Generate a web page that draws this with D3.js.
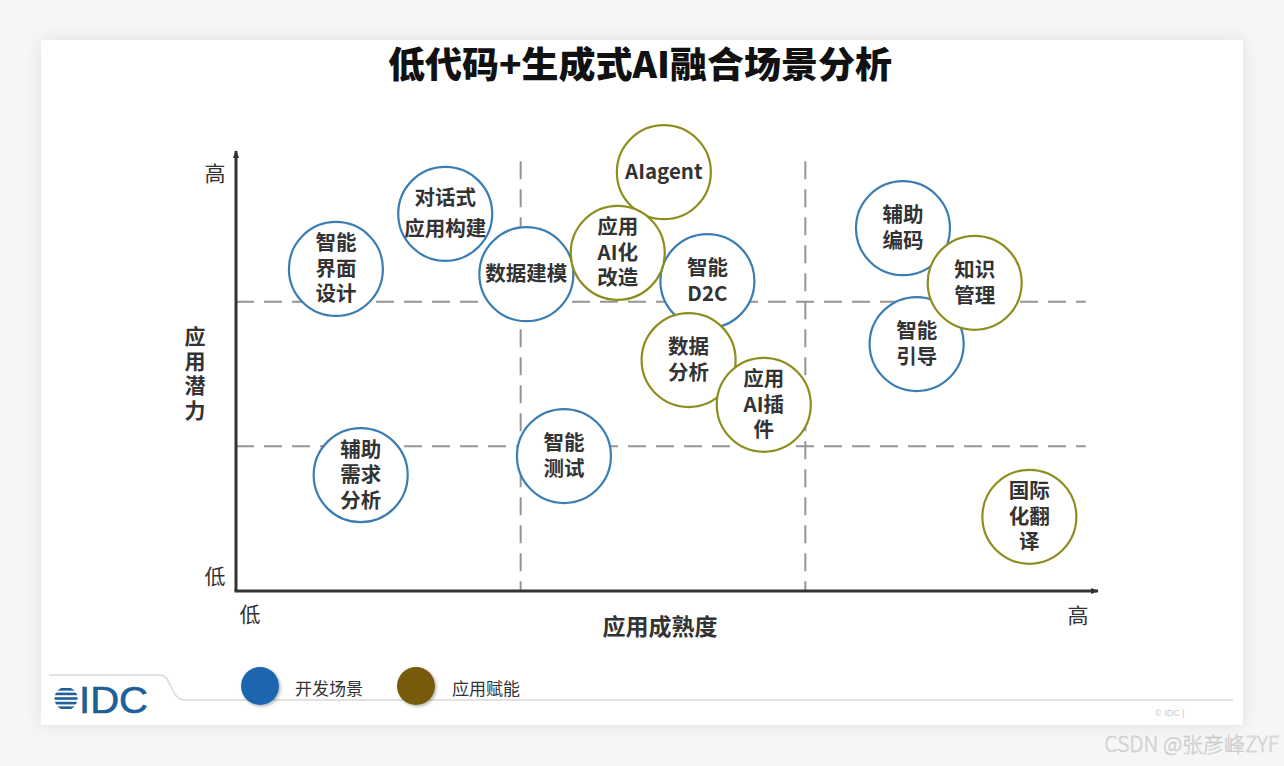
<!DOCTYPE html>
<html>
<head>
<meta charset="utf-8">
<script src="https://cdn.jsdelivr.net/npm/d3@7/dist/d3.min.js"></script>
<style>
  html, body { margin: 0; padding: 0; background: #f6f6f6; }
  svg { display: block; }
</style>
</head>
<body>
<svg id="chart" width="1284" height="766"></svg>
<script>
// ---- Data ----
const title = "低代码+生成式AI融合场景分析";
const xAxisTitle = "应用成熟度";
const yAxisTitle = "应用潜力";
const lowLabel = "低";
const highLabel = "高";
const groups = ["开发场景", "应用赋能"];
const labels = [
  ["智能", "界面", "设计"],
  ["对话式", "应用构建"],
  ["数据建模"],
  ["智能", "D2C"],
  ["辅助", "编码"],
  ["智能", "引导"],
  ["辅助", "需求", "分析"],
  ["智能", "测试"],
  ["AIagent"],
  ["应用", "AI化", "改造"],
  ["数据", "分析"],
  ["应用", "AI插", "件"],
  ["知识", "管理"],
  ["国际", "化翻", "译"]
];
const maturity  = [11.7, 24.5, 34.0, 55.2, 78.1, 79.7, 14.6, 38.4, 50.1, 44.7, 53.0, 61.8, 86.5, 92.9];
const potential = [74.2, 86.9, 73.0, 71.4, 83.6, 56.9, 26.7, 31.1, 96.5, 77.9, 53.2, 42.9, 71.0, 17.1];
const groupOf   = [0, 0, 0, 0, 0, 0, 0, 0, 1, 1, 1, 1, 1, 1];
const dividers = [100 / 3, 200 / 3];

// ---- Styles ----
const ringColors = ["#3a7db3", "#8e8e1f"];
const legendColors = ["#1f66b0", "#785a0c"];
const textColor = "#333";
const cjk = "'Noto Sans CJK SC', 'Noto Sans', sans-serif";

const svg = d3.select("#chart");
const defs = svg.append("defs");
const sh = defs.append("filter").attr("id", "cardShadow").attr("x", "-5%").attr("y", "-5%").attr("width", "110%").attr("height", "110%");
sh.append("feDropShadow").attr("dx", 0).attr("dy", 0).attr("stdDeviation", 8).attr("flood-color", "#000").attr("flood-opacity", 0.09);
const ls = defs.append("filter").attr("id", "legShadow").attr("x", "-30%").attr("y", "-30%").attr("width", "160%").attr("height", "160%");
ls.append("feDropShadow").attr("dx", 1.5).attr("dy", 1.5).attr("stdDeviation", 1.5).attr("flood-color", "#000").attr("flood-opacity", 0.3);
const ah = defs.append("marker").attr("id", "arrow").attr("viewBox", "0 0 10 10").attr("refX", 9).attr("refY", 5)
  .attr("markerWidth", 8).attr("markerHeight", 8).attr("markerUnits", "userSpaceOnUse").attr("orient", "auto");
ah.append("path").attr("d", "M0,1 L10,5 L0,9 Z").attr("fill", "#333");

// card
svg.append("rect").attr("x", 41).attr("y", 40).attr("width", 1202).attr("height", 685)
  .attr("fill", "#fff").attr("filter", "url(#cardShadow)");

// title
svg.append("text").attr("x", 640).attr("y", 62).attr("text-anchor", "middle").attr("dominant-baseline", "central")
  .attr("font-family", cjk).attr("font-weight", 900).attr("font-size", 36).attr("fill", "#111")
  .attr("textLength", 504).attr("lengthAdjust", "spacingAndGlyphs").text(title);

// scales
const x = d3.scaleLinear().domain([0, 100]).range([236, 1090]);
const y = d3.scaleLinear().domain([0, 100]).range([591, 157]);

// dashed dividers
const g = svg.append("g");
g.selectAll("line.v").data(dividers).join("line").attr("class", "v")
  .attr("x1", d => x(d)).attr("x2", d => x(d)).attr("y1", y(99)).attr("y2", y(0))
  .attr("stroke", "#959595").attr("stroke-width", 2).attr("stroke-dasharray", "18 10");
g.selectAll("line.h").data(dividers).join("line").attr("class", "h")
  .attr("x1", x(0)).attr("x2", x(99.5)).attr("y1", d => y(d)).attr("y2", d => y(d))
  .attr("stroke", "#959595").attr("stroke-width", 2).attr("stroke-dasharray", "18 10");

// axes (arrows)
svg.append("line").attr("x1", x(0)).attr("y1", y(0)).attr("x2", x(0)).attr("y2", y(0) - 440)
  .attr("stroke", "#333").attr("stroke-width", 3).attr("marker-end", "url(#arrow)");
svg.append("line").attr("x1", x(0) - 1.5).attr("y1", y(0)).attr("x2", x(100) + 8).attr("y2", y(0))
  .attr("stroke", "#333").attr("stroke-width", 3).attr("marker-end", "url(#arrow)");

// axis end labels
const endStyle = sel => sel.attr("font-family", cjk).attr("font-size", 21).attr("fill", textColor)
  .attr("text-anchor", "middle").attr("dominant-baseline", "central");
svg.append("text").attr("x", 215).attr("y", y(96.5)).call(endStyle).text(highLabel);
svg.append("text").attr("x", 215).attr("y", y(3.7)).call(endStyle).text(lowLabel);
svg.append("text").attr("x", 250).attr("y", 613).call(endStyle).text(lowLabel);
svg.append("text").attr("x", 1078).attr("y", 614).call(endStyle).text(highLabel);

// axis titles
svg.append("text").attr("x", 660).attr("y", 625).attr("text-anchor", "middle").attr("dominant-baseline", "central")
  .attr("font-family", cjk).attr("font-weight", 700).attr("font-size", 23).attr("fill", textColor).text(xAxisTitle);
svg.append("text").attr("x", 195).attr("y", 375)
  .attr("writing-mode", "vertical-rl").style("writing-mode", "vertical-rl")
  .attr("text-anchor", "middle").attr("letter-spacing", 3.7)
  .attr("font-family", cjk).attr("font-weight", 700).attr("font-size", 21).attr("fill", textColor)
  .text(yAxisTitle);

// bubbles: blue first, olive on top
const items = labels.map((l, i) => ({ lines: l, mx: maturity[i], py: potential[i], grp: groupOf[i] }))
  .sort((a, b) => a.grp - b.grp);
const R = 47;
const bubbles = svg.append("g").selectAll("g").data(items).join("g")
  .attr("transform", d => `translate(${x(d.mx)},${y(d.py)})`);
bubbles.append("circle").attr("r", R).attr("fill", "#fff")
  .attr("stroke", d => ringColors[d.grp]).attr("stroke-width", 2.2);
bubbles.each(function (d) {
  const n = d.lines.length;
  const lh = n === 2 && d.lines[0].length === 3 ? 31 : 25.5;
  const t = d3.select(this).append("text")
    .attr("text-anchor", "middle")
    .attr("font-family", cjk).attr("font-weight", 700).attr("font-size", 20.5).attr("fill", textColor)
    .attr("y", -((n - 1) / 2) * lh + 7);
  t.selectAll("tspan").data(d.lines).join("tspan")
    .attr("x", 0).attr("dy", (s, i) => i === 0 ? 0 : lh).text(s => s);
});

// bottom rule with curve
svg.append("path").attr("d", "M49,675 L160,675 C172,675 170,700 185,700 L1233,700")
  .attr("fill", "none").attr("stroke", "#d9d9d9").attr("stroke-width", 1.5);

// legend
const legX = [260, 416], legTextX = [295, 452];
const leg = svg.append("g").selectAll("g").data(groups).join("g");
leg.append("ellipse").attr("cx", (d, i) => legX[i]).attr("cy", 686).attr("rx", 19).attr("ry", 19)
  .attr("fill", (d, i) => legendColors[i]).attr("filter", "url(#legShadow)");
leg.append("text").attr("x", (d, i) => legTextX[i]).attr("y", 687).attr("dominant-baseline", "central")
  .attr("font-family", cjk).attr("font-size", 17).attr("fill", textColor).text(d => d);

// IDC logo
const logo = svg.append("g");
logo.append("clipPath").attr("id", "globeClip").append("circle").attr("cx", 66).attr("cy", 698.5).attr("r", 11.5);
const stripes = [0, 1, 2, 3, 4];
logo.append("g").attr("clip-path", "url(#globeClip)").selectAll("rect").data(stripes).join("rect")
  .attr("x", 54).attr("width", 24).attr("y", d => 688 + d * 4.6).attr("height", 2.6).attr("fill", "#1f5f99");
logo.append("text").attr("x", 79).attr("y", 713).attr("font-family", "'Liberation Sans', Arial, sans-serif")
  .attr("font-size", 36).attr("fill", "#1f5f99").attr("stroke", "#1f5f99").attr("stroke-width", 0.6)
  .attr("textLength", 69).attr("lengthAdjust", "spacingAndGlyphs").text("IDC");

// copyright & watermark
svg.append("text").attr("x", 1155).attr("y", 716).attr("font-family", "'Liberation Sans', Arial, sans-serif")
  .attr("font-size", 9).attr("fill", "#c8c8c8").text("© IDC |");
svg.append("text").attr("x", 1279).attr("y", 752).attr("text-anchor", "end")
  .attr("font-family", cjk).attr("font-weight", 300).attr("font-size", 21).attr("fill", "#e4e4e4").attr("stroke", "#bdbdbd").attr("stroke-width", 0.4)
  .text("CSDN @张彦峰ZYF");
</script>
</body>
</html>
